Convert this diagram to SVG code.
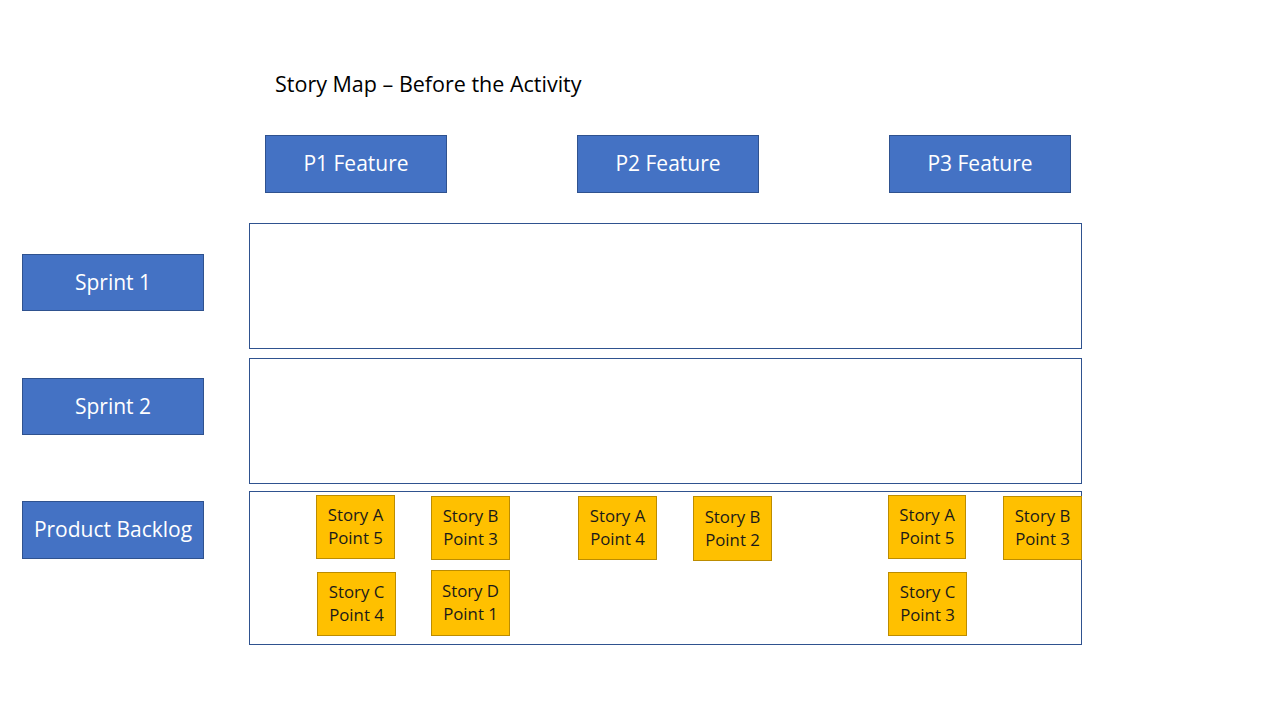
<svg xmlns="http://www.w3.org/2000/svg" width="1280" height="720" viewBox="0 0 1280 720">
<style>
text{font-family:"Open Sans","Liberation Sans",sans-serif}
.blue{fill:#4472C4;stroke:#2F528F;stroke-width:1}
.frame{fill:#FFFFFF;stroke:#2F528F;stroke-width:1}
.sticky{fill:#FFC000;stroke:#BC8C00;stroke-width:1}
.bt{fill:#FFFFFF;font-size:21px;text-anchor:middle}
.st{fill:#1a1a1a;font-size:16.8px;text-anchor:middle}
.title{fill:#000000;font-size:21.5px}
</style>
<rect width="1280" height="720" fill="#FFFFFF"/>
<text class="title" x="275" y="92">Story Map – Before the Activity</text>
<g id="features">
<g id="p1"><rect class="blue" x="265.5" y="135.5" width="181" height="57"/><text class="bt" x="356" y="171">P1 Feature</text></g>
<g id="p2"><rect class="blue" x="577.5" y="135.5" width="181" height="57"/><text class="bt" x="668" y="171">P2 Feature</text></g>
<g id="p3"><rect class="blue" x="889.5" y="135.5" width="181" height="57"/><text class="bt" x="980" y="171">P3 Feature</text></g>
</g>
<g id="rows">
<g id="sprint1"><rect class="blue" x="22.5" y="254.5" width="181" height="56"/><text class="bt" x="113" y="290">Sprint 1</text></g>
<g id="sprint2"><rect class="blue" x="22.5" y="378.5" width="181" height="56"/><text class="bt" x="113" y="414">Sprint 2</text></g>
<g id="backlog"><rect class="blue" x="22.5" y="501.5" width="181" height="57"/><text class="bt" x="113" y="537">Product Backlog</text></g>
</g>
<g id="lanes">
<rect id="lane-sprint1" class="frame" x="249.5" y="223.5" width="832" height="125"/>
<rect id="lane-sprint2" class="frame" x="249.5" y="358.5" width="832" height="125"/>
<rect id="lane-backlog" class="frame" x="249.5" y="491.5" width="832" height="153"/>
</g>
<g id="stories">
<g id="p1-a"><rect class="sticky" x="316.5" y="495.5" width="78" height="63"/><text class="st" x="355.5" y="521">Story A</text><text class="st" x="355.5" y="544">Point 5</text></g>
<g id="p1-b"><rect class="sticky" x="431.5" y="496.5" width="78" height="63"/><text class="st" x="470.5" y="522">Story B</text><text class="st" x="470.5" y="545">Point 3</text></g>
<g id="p1-c"><rect class="sticky" x="317.5" y="572.5" width="78" height="63"/><text class="st" x="356.5" y="598">Story C</text><text class="st" x="356.5" y="621">Point 4</text></g>
<g id="p1-d"><rect class="sticky" x="431.5" y="570.5" width="78" height="65"/><text class="st" x="470.5" y="597">Story D</text><text class="st" x="470.5" y="620">Point 1</text></g>
<g id="p2-a"><rect class="sticky" x="578.5" y="496.5" width="78" height="63"/><text class="st" x="617.5" y="522">Story A</text><text class="st" x="617.5" y="545">Point 4</text></g>
<g id="p2-b"><rect class="sticky" x="693.5" y="496.5" width="78" height="64"/><text class="st" x="732.5" y="523">Story B</text><text class="st" x="732.5" y="546">Point 2</text></g>
<g id="p3-a"><rect class="sticky" x="888.5" y="495.5" width="77" height="63"/><text class="st" x="927" y="521">Story A</text><text class="st" x="927" y="544">Point 5</text></g>
<g id="p3-b"><rect class="sticky" x="1003.5" y="496.5" width="78" height="63"/><text class="st" x="1042.5" y="522">Story B</text><text class="st" x="1042.5" y="545">Point 3</text></g>
<g id="p3-c"><rect class="sticky" x="888.5" y="572.5" width="78" height="63"/><text class="st" x="927.5" y="598">Story C</text><text class="st" x="927.5" y="621">Point 3</text></g>
</g>
<g id="connectors"></g>
</svg>
